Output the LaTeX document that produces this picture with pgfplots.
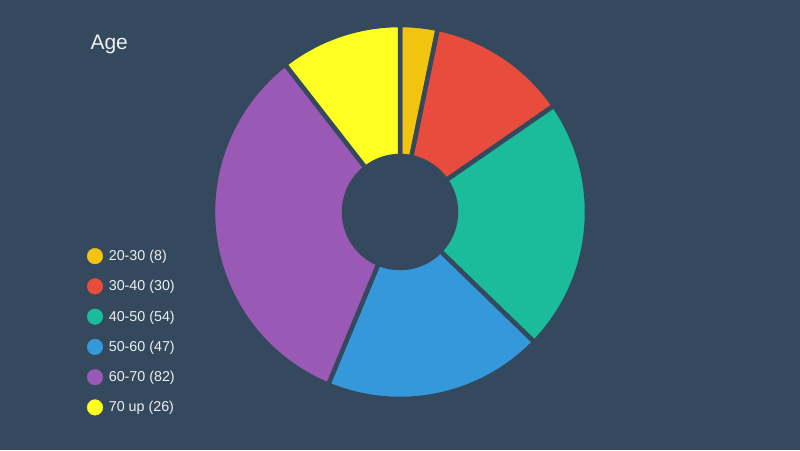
\documentclass[border=0pt]{standalone}
\usepackage{pgfplots}
\pgfplotsset{compat=1.18}
\usepackage{fontspec}
\setmainfont{Liberation Sans}

\definecolor{bg}{HTML}{34495E}
\definecolor{txt}{HTML}{ECF0F1}
\definecolor{c1}{HTML}{F1C40F}
\definecolor{c2}{HTML}{E74C3C}
\definecolor{c3}{HTML}{1ABC9C}
\definecolor{c4}{HTML}{3498DB}
\definecolor{c5}{HTML}{9B59B6}
\definecolor{c6}{HTML}{FFFF22}

\begin{document}
\begin{tikzpicture}
\begin{axis}[
  x=1pt, y=1pt,
  xmin=0, xmax=800, ymin=0, ymax=450,
  hide axis,
  clip=false,
  legend style={at={(axis cs:84,204)}, anchor=north west, draw=none, fill=none,
    text=txt, font=\fontsize{14.3}{16}\selectfont, row sep=14.4pt,
    /tikz/every odd column/.append style={column sep=4pt}},
  legend cell align=left,
]
\fill[bg] (axis cs:0,0) rectangle (axis cs:800,450);

% donut: values clockwise from the top
\gdef\acc{0}
\foreach \v/\c in {8/c1,30/c2,54/c3,47/c4,82/c5,26/c6} {
  \pgfmathsetmacro\a{90-\acc/247*360}
  \pgfmathsetmacro\b{90-(\acc+\v)/247*360}
  \edef\tmp{\noexpand\filldraw[fill=\c, draw=bg, line width=4.5pt, line join=miter]
    (axis cs:{400+187*cos(\a)},{238+187*sin(\a)})
    arc[start angle=\a, end angle=\b, radius=187pt]
    -- (axis cs:{400+56*cos(\b)},{238+56*sin(\b)})
    arc[start angle=\b, end angle=\a, radius=56pt] -- cycle;}
  \tmp
  \pgfmathparse{\acc+\v}\xdef\acc{\pgfmathresult}
}

\node[anchor=west, text=txt, font=\fontsize{21}{24}\selectfont] at (axis cs:87,406) {Age};

\addlegendimage{only marks, mark=*, mark size=7.8pt, c1}
\addlegendentry{20-30 (8)}
\addlegendimage{only marks, mark=*, mark size=7.8pt, c2}
\addlegendentry{30-40 (30)}
\addlegendimage{only marks, mark=*, mark size=7.8pt, c3}
\addlegendentry{40-50 (54)}
\addlegendimage{only marks, mark=*, mark size=7.8pt, c4}
\addlegendentry{50-60 (47)}
\addlegendimage{only marks, mark=*, mark size=7.8pt, c5}
\addlegendentry{60-70 (82)}
\addlegendimage{only marks, mark=*, mark size=7.8pt, c6}
\addlegendentry{70 up (26)}
\end{axis}
\end{tikzpicture}
\end{document}
